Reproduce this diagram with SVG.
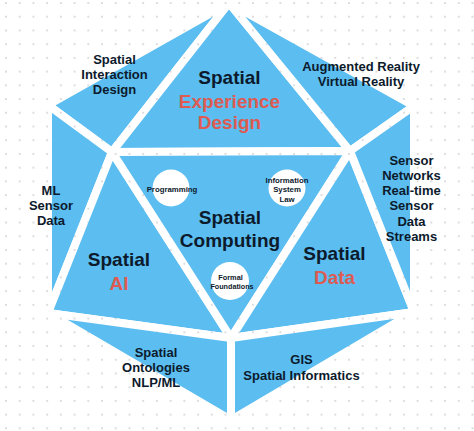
<svg xmlns="http://www.w3.org/2000/svg" width="474" height="431" viewBox="0 0 474 431">
<style>
.face{fill:#5bbdf0;stroke:url(#grid);stroke-width:8;stroke-linejoin:round}
text{font-family:"Liberation Sans",Arial,sans-serif;font-weight:bold;fill:#0c1a2c;text-anchor:middle}
.side{font-size:13px}
.big{font-size:19px}
.red{fill:#dd5b52}
.dot{fill:#ffffff}
.small{font-size:7.8px}
</style>
<defs>
<pattern id="grid" patternUnits="userSpaceOnUse" x="-0.86" y="-3.86" width="13.72" height="13.72">
<rect width="13.72" height="13.72" fill="#ffffff"/>
<circle cx="6.86" cy="6.86" r="0.9" fill="#cfcfcf"/>
</pattern>
</defs>
<rect width="474" height="431" fill="url(#grid)"/>
<g id="face-interaction">
<polygon class="face" points="229,3 48,105 112,152"/>
<text class="side" x="114.5" y="64">Spatial</text>
<text class="side" x="114.5" y="79">Interaction</text>
<text class="side" x="114.5" y="94">Design</text>
</g>
<g id="face-experience">
<polygon class="face" points="229,3 112,152 350,151"/>
<text class="big" x="229.5" y="84">Spatial</text>
<text class="big red" x="229.5" y="108">Experience</text>
<text class="big red" x="229.5" y="129">Design</text>
</g>
<g id="face-arvr">
<polygon class="face" points="229,3 350,151 414,106"/>
<text class="side" x="361" y="71">Augmented Reality</text>
<text class="side" x="361" y="86">Virtual Reality</text>
</g>
<g id="face-ml">
<polygon class="face" points="48,105 48,313 112,152"/>
<text class="side" x="51" y="195">ML</text>
<text class="side" x="51" y="210">Sensor</text>
<text class="side" x="51" y="225">Data</text>
</g>
<g id="face-ai">
<polygon class="face" points="112,152 48,313 231,338"/>
<text class="big" x="119" y="266">Spatial</text>
<text class="big red" x="119" y="290">AI</text>
</g>
<g id="face-computing">
<polygon class="face" points="112,152 350,151 231,338"/>
<text class="big" x="230" y="224">Spatial</text>
<text class="big" x="230" y="247">Computing</text>
</g>
<g id="node-programming">
<circle class="dot" cx="171" cy="188" r="18.5"/>
<text class="small" x="172" y="191.5">Programming</text>
</g>
<g id="node-infolaw">
<circle class="dot" cx="287" cy="188" r="18.5"/>
<text class="small" x="287" y="182.5">Information</text>
<text class="small" x="287" y="192">System</text>
<text class="small" x="287" y="201.5">Law</text>
</g>
<g id="node-formal">
<circle class="dot" cx="230" cy="281" r="19"/>
<text class="small" x="230.5" y="279.5" style="font-size:7.4px">Formal</text>
<text class="small" x="232" y="288.5" style="font-size:7.2px">Foundations</text>
</g>
<g id="face-data">
<polygon class="face" points="350,151 231,338 414,312"/>
<text class="big" x="334.5" y="260">Spatial</text>
<text class="big red" x="334.5" y="283.5">Data</text>
</g>
<g id="face-sensor">
<polygon class="face" points="414,106 414,312 350,151"/>
<text class="side" x="411.5" y="165">Sensor</text>
<text class="side" x="411.5" y="180">Networks</text>
<text class="side" x="411.5" y="195">Real-time</text>
<text class="side" x="411.5" y="210">Sensor</text>
<text class="side" x="411.5" y="225.5">Data</text>
<text class="side" x="411.5" y="241">Streams</text>
</g>
<g id="face-ontologies">
<polygon class="face" points="48,313 231,420 231,338"/>
<text class="side" x="156" y="357">Spatial</text>
<text class="side" x="156" y="372">Ontologies</text>
<text class="side" x="156" y="387">NLP/ML</text>
</g>
<g id="face-gis">
<polygon class="face" points="231,338 231,420 414,312"/>
<text class="side" x="301.5" y="364">GIS</text>
<text class="side" x="301.5" y="380">Spatial Informatics</text>
</g>
<g id="connectors"></g>
</svg>
